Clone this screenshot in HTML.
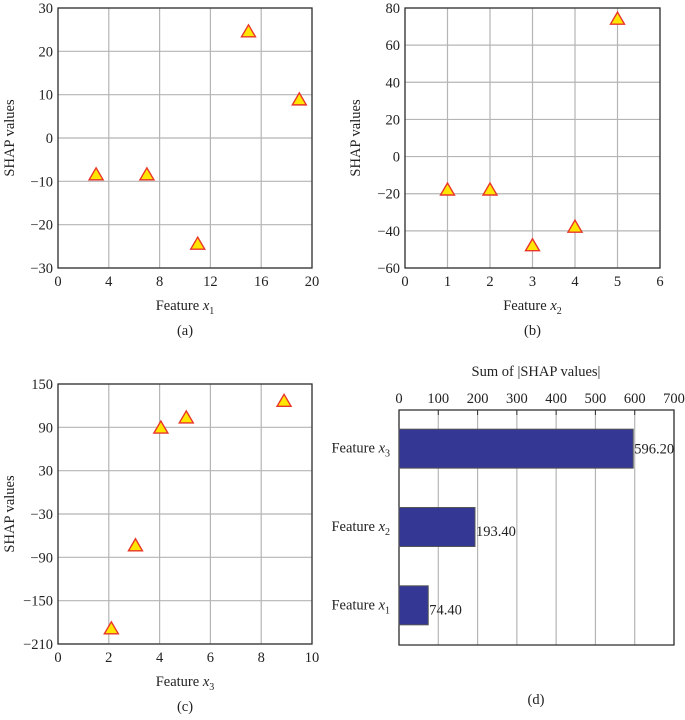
<!DOCTYPE html>
<html><head><meta charset="utf-8"><style>
body{margin:0;background:#fff}
svg text{font-family:"Liberation Serif",serif;fill:#222}
</style></head><body>
<svg id="c" width="685" height="715" xmlns="http://www.w3.org/2000/svg"></svg>
<script>
const aX=[3,7,11,15,19], aY=[-8.5,-8.5,-24.5,24.5,8.8];
const bX=[1,2,3,4,5], bY=[-18,-18,-48,-38,74];
const cX=[2.1,3.05,4.05,5.05,8.9], cY=[-189,-74,89,103,126];
const dCats=["x3","x2","x1"], dVals=[596.20,193.40,74.40];
const aXT=[0,4,8,12,16,20], aYT=[-30,-20,-10,0,10,20,30];
const bXT=[0,1,2,3,4,5,6], bYT=[-60,-40,-20,0,20,40,60,80];
const cXT=[0,2,4,6,8,10], cYT=[-210,-150,-90,-30,30,90,150];
const dXT=[0,100,200,300,400,500,600,700];
const NS="http://www.w3.org/2000/svg", svg=document.getElementById('c');
function el(t,a,p){const e=document.createElementNS(NS,t);for(const k in a)e.setAttribute(k,a[k]);(p||svg).appendChild(e);return e;}
function fmt(v){return v<0?"\u2212"+(-v):""+v;}
function scatter(name,X,Y,xt,yt,L,R,T,B,sub,lab,ytx){
  const g=el('g',{});
  
  
  const x0=xt[0],x1=xt[xt.length-1],y0=yt[0],y1=yt[yt.length-1];
  const sx=v=>L+(v-x0)/(x1-x0)*(R-L), sy=v=>B-(v-y0)/(y1-y0)*(B-T);
  xt.forEach(v=>{const l=el('line',{x1:sx(v),x2:sx(v),y1:T,y2:B,stroke:'#b5b5b5','stroke-width':1.2},g);
    
    const t=el('text',{x:sx(v),y:B+18,'text-anchor':'middle','font-size':14.5},g);t.textContent=fmt(v);
    });
  yt.forEach(v=>{const l=el('line',{x1:L,x2:R,y1:sy(v),y2:sy(v),stroke:'#b5b5b5','stroke-width':1.2},g);
    
    const t=el('text',{x:L-5,y:sy(v)+5,'text-anchor':'end','font-size':14.5},g);t.textContent=fmt(v);
    });
  const f=el('rect',{x:L,y:T,width:R-L,height:B-T,fill:'none',stroke:'#333','stroke-width':1.3},g);
  
  X.forEach((v,i)=>{const cx=sx(v),cy=sy(Y[i]);
    const p=el('polygon',{points:`${cx},${cy-7} ${cx-7},${cy+5} ${cx+7},${cy+5}`,fill:'#ffe600',stroke:'#e8352a','stroke-width':1.4},g);
    });
  const xt2=el('text',{x:(L+R)/2,y:B+42,'text-anchor':'middle','font-size':14.5},g);
  xt2.innerHTML='Feature <tspan font-style="italic">x</tspan><tspan font-size="10" dy="4">'+sub+'</tspan>';
  
  const yc=(T+B)/2;
  const yt2=el('text',{x:ytx,y:yc,'text-anchor':'middle','font-size':14.5,transform:`rotate(-90 ${ytx} ${yc})`},g);
  yt2.textContent='SHAP values';
  
  const pl=el('text',{x:(L+R)/2,y:B+67,'text-anchor':'middle','font-size':14.5},g);pl.textContent=lab;
  
}
scatter('panel-a',aX,aY,aXT,aYT,58,312,8,268,'1','(a)',14);
scatter('panel-b',bX,bY,bXT,bYT,405,660,8,268,'2','(b)',360);
scatter('panel-c',cX,cY,cXT,cYT,58,312,384,644,'3','(c)',14);
// panel d
(function(){
  const g=el('g',{});
  
  
  const L=399,R=674,T=410,B=645, sx=v=>L+v/700*(R-L);
  dXT.forEach(v=>{const l=el('line',{x1:sx(v),x2:sx(v),y1:T,y2:B,stroke:'#b5b5b5','stroke-width':1.2},g);
    
    const k=el('line',{x1:sx(v),x2:sx(v),y1:T,y2:T+5,stroke:'#333'},g);
    
    const t=el('text',{x:sx(v),y:T-7,'text-anchor':'middle','font-size':14.5},g);t.textContent=v;
    });
  const f=el('rect',{x:L,y:T,width:R-L,height:B-T,fill:'none',stroke:'#333','stroke-width':1.3},g);
  
  const band=(B-T)/3;
  dVals.forEach((v,i)=>{const yc=T+band*(i+0.5)-0.5, h=39;
    const r=el('rect',{x:L,y:yc-h/2,width:sx(v)-L,height:h,fill:'#343894',stroke:'#555','stroke-width':1},g);
    
    const t=el('text',{x:sx(v)+1,y:yc+(i==0?5:9),'font-size':14.5},g);t.textContent=v.toFixed(2);
    
    const c=el('text',{x:L-9,y:yc+4,'text-anchor':'end','font-size':14.5},g);
    c.innerHTML='Feature <tspan font-style="italic">x</tspan><tspan font-size="10" dy="4">'+dCats[i].slice(1)+'</tspan>';
    });
  const tt=el('text',{x:536,y:376,'text-anchor':'middle','font-size':14.5},g);tt.textContent='Sum  of |SHAP values|';
  
  const pl=el('text',{x:536,y:704,'text-anchor':'middle','font-size':14.5},g);pl.textContent='(d)';
  
})();
</script>
</body></html>
